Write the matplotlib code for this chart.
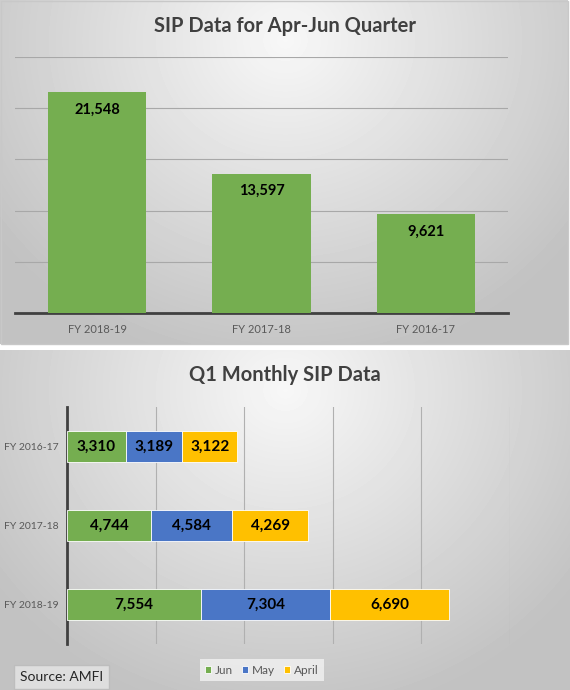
import numpy as np
import matplotlib.pyplot as plt
from matplotlib.patches import Rectangle

plt.rcParams['font.family'] = ['Lato', 'DejaVu Sans']

# Datos del gráfico superior
trimestres = ['FY 2018-19', 'FY 2017-18', 'FY 2016-17']
total_trimestre = [21548, 13597, 9621]

# Datos del gráfico inferior (de abajo hacia arriba)
anios = ['FY 2018-19', 'FY 2017-18', 'FY 2016-17']
meses = ['Jun', 'May', 'April']
sip_jun = [7554, 4744, 3310]
sip_may = [7304, 4584, 3189]
sip_april = [6690, 4269, 3122]

verde = '#75AE50'
azul = '#4A76C6'
dorado = '#FFC000'
gris_texto = '#595959'

W, H = 570, 690
fig = plt.figure(figsize=(W / 100, H / 100), dpi=100)

# Fondo con degradado radial para cada panel
fondo = np.ones((H, W))
yy, xx = np.mgrid[0:H, 0:W]
r1 = np.sqrt(((xx - 285) / 360.0) ** 2 + ((yy - 40) / 330.0) ** 2)
r2 = np.sqrt(((xx - 285) / 360.0) ** 2 + ((yy - 390) / 330.0) ** 2)
g1 = 0.97 - 0.21 * np.clip(r1, 0, 1)
g2 = 0.97 - 0.21 * np.clip(r2, 0, 1)
fondo[0:344, 0:568] = g1[0:344, 0:568]
fondo[350:, :] = g2[350:, :]
ax_bg = fig.add_axes([0, 0, 1, 1])
ax_bg.imshow(fondo, cmap='gray', vmin=0, vmax=1, aspect='auto', interpolation='bilinear')
ax_bg.add_patch(Rectangle((0.5, 0.5), 567, 343, fill=False, edgecolor='#c8c8c8', lw=1))
ax_bg.set_axis_off()

# Gráfico 1: barras verticales
ax1 = fig.add_axes([15 / W, 1 - 313 / H, 493 / W, 256 / H])
ax1.patch.set_alpha(0)
x = np.arange(len(trimestres))
barras = ax1.bar(x, total_trimestre, width=0.6, color=verde, zorder=3)
for b, v in zip(barras, total_trimestre):
    ax1.annotate(f'{v:,}', (b.get_x() + b.get_width() / 2, v), xytext=(0, -7.5),
                 textcoords='offset points', ha='center', va='top',
                 fontsize=10.5, fontweight='bold', color='black', zorder=4)
ax1.set_xlim(-0.5, 2.5)
ax1.set_ylim(0, 25000)
ax1.set_yticks(np.arange(0, 25001, 5000))
ax1.yaxis.grid(True, color='#a8a8a8', lw=0.8, zorder=0)
ax1.set_yticklabels([])
ax1.tick_params(axis='y', length=0)
ax1.set_xticks(x)
ax1.set_xticklabels(trimestres, fontsize=8, color=gris_texto)
ax1.tick_params(axis='x', length=0, pad=8)
for lado in ['top', 'right', 'left']:
    ax1.spines[lado].set_visible(False)
ax1.spines['bottom'].set_color('#404040')
ax1.spines['bottom'].set_linewidth(2)
fig.text(0.5, 1 - 26 / H, 'SIP Data for Apr-Jun Quarter', ha='center', va='center',
         fontsize=14.5, fontweight='bold', color='#404040')

# Gráfico 2: barras horizontales apiladas
ax2 = fig.add_axes([67 / W, 46 / H, 443 / W, 237 / H])
ax2.patch.set_alpha(0)
y = np.arange(len(anios))
izq = np.zeros(len(anios))
for serie, color, nombre in zip([sip_jun, sip_may, sip_april], [verde, azul, dorado], meses):
    bs = ax2.barh(y, serie, left=izq, height=0.39, color=color, label=nombre,
                  edgecolor='white', lw=0.6, zorder=3)
    for b, v in zip(bs, serie):
        ax2.text(b.get_x() + b.get_width() / 2, b.get_y() + b.get_height() / 2, f'{v:,}',
                 ha='center', va='center', fontsize=11, fontweight='bold', color='black', zorder=4)
    izq += np.array(serie)
ax2.set_ylim(-0.5, 2.5)
ax2.set_xlim(0, 25000)
ax2.set_xticks(np.arange(0, 25001, 5000))
ax2.xaxis.grid(True, color='#b0b0b0', lw=0.8, zorder=0)
ax2.set_xticklabels([])
ax2.tick_params(axis='x', length=0)
ax2.set_yticks(y)
ax2.set_yticklabels(anios, fontsize=7.5, color=gris_texto)
ax2.tick_params(axis='y', length=0, pad=6)
for lado in ['top', 'right', 'bottom']:
    ax2.spines[lado].set_visible(False)
ax2.spines['left'].set_color('#404040')
ax2.spines['left'].set_linewidth(2)
fig.text(0.5, 1 - 375 / H, 'Q1 Monthly SIP Data', ha='center', va='center',
         fontsize=14.5, fontweight='bold', color='#404040')

leg = fig.legend(loc='center', bbox_to_anchor=(262 / W, 20 / H), ncol=3, fontsize=8.5,
                 frameon=True, fancybox=False, handlelength=0.5, handleheight=0.5,
                 handletextpad=0.3, columnspacing=0.8, borderpad=0.5)
leg.get_frame().set_facecolor('#f2f2f2')
leg.get_frame().set_edgecolor('none')
for t in leg.get_texts():
    t.set_color(gris_texto)

fig.text(20 / W, 1 - 677 / H, 'Source: AMFI', ha='left', va='center', fontsize=10,
         color='#262626',
         bbox=dict(boxstyle='square,pad=0.45', facecolor='#dedede', edgecolor='#bdbdbd', lw=1))

fig.savefig('out.png', dpi=100)
